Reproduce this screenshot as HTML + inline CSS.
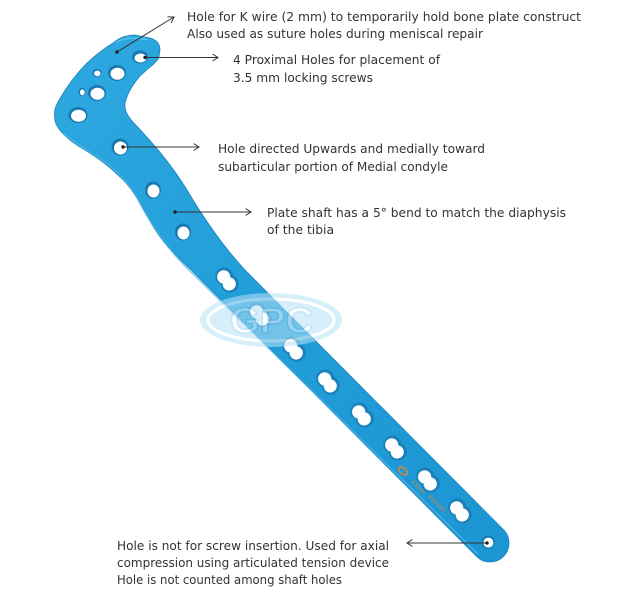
<!DOCTYPE html>
<html>
<head>
<meta charset="utf-8">
<style>
  html,body{margin:0;padding:0;background:#ffffff;}
  svg{display:block;}
  .t{font-family:"DejaVu Sans","Liberation Sans",sans-serif;font-size:12px;fill:#333333;}
</style>
</head>
<body>
<svg width="618" height="600" viewBox="0 0 618 600" xmlns="http://www.w3.org/2000/svg">
  <defs>
    <marker id="ah" markerWidth="8" markerHeight="8" refX="6" refY="3.5" orient="auto" markerUnits="userSpaceOnUse">
      <path d="M0.5,0 L6,3.5 L0.5,7" fill="none" stroke="#333" stroke-width="1"/>
    </marker>
    <linearGradient id="pg" x1="0" y1="0" x2="1" y2="1">
      <stop offset="0" stop-color="#2ea8e0"/>
      <stop offset="0.5" stop-color="#219dd8"/>
      <stop offset="1" stop-color="#1c96d2"/>
    </linearGradient>
    <g id="key">
      <circle cx="-4.5" cy="0" r="9" fill="#1a80ba"/><circle cx="4.5" cy="0" r="9" fill="#1a80ba"/>
      <circle cx="-4.5" cy="0.7" r="6.6" fill="#fff"/><circle cx="4.5" cy="0.7" r="6.6" fill="#fff"/>
    </g>
  </defs>

  <!-- Plate body -->
  <path d="M113,43 C120,37 127,35 135,35 L150,38 Q160,41 160,50 L159,57 Q157,62 150,67 L140,76 Q128,90 125,103 Q124,112 132,121 C150,140 170,162 187,190 C200,212 220,243 245,270 L504.4,530.6 A19,19 0 0 1 477.6,557.4 L190,269 Q178,258 170,249 Q158,236 150,221 Q143,207 137,198 Q128,184 120,177 Q110,167 100,160 Q90,153 80,147 Q62,136 56,124 Q52,112 58,102 Q70,80 87,63 Q100,51 113,43 Z"
        fill="url(#pg)" stroke="#1a82bd" stroke-width="0.8"/>
  <!-- side wall hint on lower-left -->
  <path d="M62,133 Q85,150 105,162 Q125,177 137,198 Q148,220 165,243 Q178,260 195,276 L478,554" fill="none" stroke="#55b9e8" stroke-width="1.4" opacity="0.7"/>
  <!-- highlight on upper edge -->
  <path d="M116,42 C124,38 132,37 148,40" fill="none" stroke="#6ccaf2" stroke-width="1.2" opacity="0.8"/>

  <!-- Round holes -->
  <g>
    <ellipse cx="140" cy="57" rx="8" ry="6.5" fill="#1878b0"/>
    <ellipse cx="140.5" cy="58" rx="6" ry="4.5" fill="#ffffff"/>
    <ellipse cx="97" cy="73" rx="4.5" ry="4" fill="#1878b0"/>
    <ellipse cx="97.3" cy="73.4" rx="3.2" ry="2.8" fill="#ffffff"/>
    <ellipse cx="117" cy="73" rx="9" ry="8" fill="#1878b0"/>
    <ellipse cx="117.5" cy="73.8" rx="7" ry="6" fill="#ffffff"/>
    <ellipse cx="82" cy="92" rx="3.5" ry="4.3" fill="#1878b0"/>
    <ellipse cx="82.3" cy="92.4" rx="2.3" ry="3" fill="#ffffff"/>
    <ellipse cx="97" cy="93" rx="9" ry="8" fill="#1878b0"/>
    <ellipse cx="97.5" cy="93.8" rx="7" ry="6" fill="#ffffff"/>
    <ellipse cx="78" cy="115" rx="9.5" ry="8" fill="#1878b0"/>
    <ellipse cx="78.5" cy="115.8" rx="7.5" ry="6" fill="#ffffff"/>
    <ellipse cx="120" cy="147" rx="8.5" ry="8.5" fill="#1878b0"/>
    <ellipse cx="120.5" cy="148" rx="6.5" ry="6.5" fill="#ffffff"/>
    <ellipse cx="153" cy="190" rx="8" ry="8.5" fill="#1878b0"/>
    <ellipse cx="153.5" cy="191" rx="6" ry="6.5" fill="#ffffff"/>
    <ellipse cx="183" cy="232" rx="8" ry="8.5" fill="#1878b0"/>
    <ellipse cx="183.5" cy="233" rx="6" ry="6.5" fill="#ffffff"/>
    <ellipse cx="488" cy="542" rx="6.5" ry="6.5" fill="#1878b0"/>
    <ellipse cx="488.4" cy="542.6" rx="5" ry="5" fill="#ffffff"/>
  </g>

  <!-- Keyhole (combination) holes -->
  <use href="#key" transform="translate(227,280) rotate(52)"/>
  <use href="#key" transform="translate(260,315) rotate(52)"/>
  <use href="#key" transform="translate(294,349) rotate(52)"/>
  <use href="#key" transform="translate(328,382) rotate(52)"/>
  <use href="#key" transform="translate(362,415) rotate(52)"/>
  <use href="#key" transform="translate(395,448) rotate(52)"/>
  <use href="#key" transform="translate(428,480) rotate(52)"/>
  <use href="#key" transform="translate(460,511) rotate(52)"/>

  <!-- Orange engraving -->
  <g fill="#d88a3c">
    <ellipse cx="403" cy="471" rx="5" ry="3" transform="rotate(40 403 471)" fill="none" stroke="#d88a3c" stroke-width="1.5"/>
    <text x="411" y="482" font-family="DejaVu Sans, sans-serif" font-size="5" transform="rotate(45 411 482)">4.5mm</text>
    <text x="428" y="497" font-family="DejaVu Sans, sans-serif" font-size="5" transform="rotate(45 428 497)">XXX-XXX</text>
  </g>

  <!-- Watermark -->
  <g opacity="0.55">
    <ellipse cx="271" cy="320" rx="71" ry="27" fill="#b7e2f7"/>
    <ellipse cx="271" cy="320" rx="63" ry="21" fill="none" stroke="#ffffff" stroke-width="3"/>
    <text x="230" y="333" font-family="Liberation Sans, sans-serif" font-weight="bold" font-size="36" textLength="83" lengthAdjust="spacingAndGlyphs" fill="#ffffff" stroke="#8fd0f2" stroke-width="1.5">GPC</text>
  </g>

  <!-- Connectors -->
  <g stroke="#333" stroke-width="1" fill="none">
    <line x1="117" y1="52" x2="174" y2="17" marker-end="url(#ah)"/>
    <line x1="145" y1="57.5" x2="218" y2="57.5" marker-end="url(#ah)"/>
    <line x1="123" y1="147" x2="199" y2="147" marker-end="url(#ah)"/>
    <line x1="175" y1="212" x2="251" y2="212" marker-end="url(#ah)"/>
    <line x1="487" y1="543" x2="407" y2="543" marker-end="url(#ah)"/>
  </g>
  <g fill="#222">
    <circle cx="117" cy="52" r="1.7"/>
    <circle cx="145" cy="57.5" r="1.7"/>
    <circle cx="123" cy="147" r="1.7"/>
    <circle cx="175" cy="212" r="1.7"/>
    <circle cx="487" cy="543" r="1.7"/>
  </g>

  <!-- Labels -->
  <text class="t" x="187" y="21" textLength="394" lengthAdjust="spacingAndGlyphs">Hole for K wire (2 mm) to temporarily hold bone plate construct</text>
  <text class="t" x="187" y="38" textLength="296" lengthAdjust="spacingAndGlyphs">Also used as suture holes during meniscal repair</text>
  <text class="t" x="233" y="64" textLength="207" lengthAdjust="spacingAndGlyphs">4 Proximal Holes for placement of</text>
  <text class="t" x="233" y="82" textLength="140" lengthAdjust="spacingAndGlyphs">3.5 mm locking screws</text>
  <text class="t" x="218" y="153" textLength="267" lengthAdjust="spacingAndGlyphs">Hole directed Upwards and medially toward</text>
  <text class="t" x="218" y="171" textLength="230" lengthAdjust="spacingAndGlyphs">subarticular portion of Medial condyle</text>
  <text class="t" x="267" y="217" textLength="299" lengthAdjust="spacingAndGlyphs">Plate shaft has a 5° bend to match the diaphysis</text>
  <text class="t" x="267" y="234" textLength="67" lengthAdjust="spacingAndGlyphs">of the tibia</text>
  <text class="t" x="117" y="550" textLength="272" lengthAdjust="spacingAndGlyphs">Hole is not for screw insertion. Used for axial</text>
  <text class="t" x="117" y="567" textLength="272" lengthAdjust="spacingAndGlyphs">compression using articulated tension device</text>
  <text class="t" x="117" y="584" textLength="225" lengthAdjust="spacingAndGlyphs">Hole is not counted among shaft holes</text>
</svg>
</body>
</html>
